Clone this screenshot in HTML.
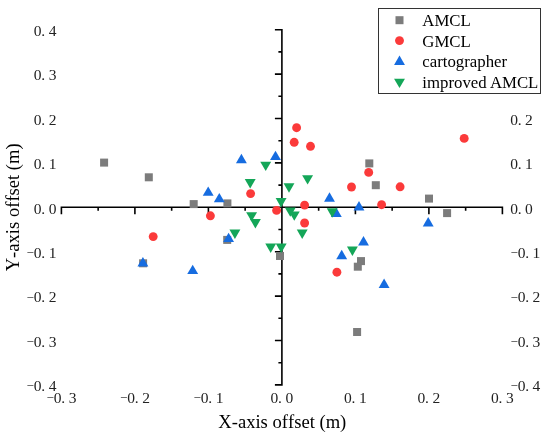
<!DOCTYPE html>
<html lang="en"><head><meta charset="utf-8"><title>Offset scatter</title>
<style>
html,body{margin:0;padding:0;background:#fff;}
body{width:550px;height:437px;overflow:hidden;}
svg{display:block;}
.tk{font-family:"Liberation Serif",serif;font-size:15.5px;fill:#222;text-anchor:middle;}
.mn{font-size:13px;}
.ti{font-family:"Liberation Serif",serif;font-size:18.6px;fill:#000;font-kerning:none;}
.lg{font-family:"Liberation Serif",serif;font-size:16.8px;fill:#000;}
</style></head><body>
<svg width="550" height="437" viewBox="0 0 550 437">
<rect width="550" height="437" fill="#fff"/>
<path d="M60.60 207.3H503.20M281.9 28.90V385.70M61.40 207.3v7M98.15 207.3v3.5M134.90 207.3v7M171.65 207.3v3.5M208.40 207.3v7M245.15 207.3v3.5M281.90 207.3v7M318.65 207.3v3.5M355.40 207.3v7M392.15 207.3v3.5M428.90 207.3v7M465.65 207.3v3.5M502.40 207.3v7M281.9 29.70h-7M281.9 51.90h-3.5M281.9 74.10h-7M281.9 96.30h-3.5M281.9 118.50h-7M281.9 140.70h-3.5M281.9 162.90h-7M281.9 185.10h-3.5M281.9 207.30h-7M281.9 229.50h-3.5M281.9 251.70h-7M281.9 273.90h-3.5M281.9 296.10h-7M281.9 318.30h-3.5M281.9 340.50h-7M281.9 362.70h-3.5M281.9 384.90h-7" stroke="#000" stroke-width="1.6" fill="none"/>
<g>
<rect x="100.10" y="158.60" width="8.0" height="8.0" fill="#7c7c7c"/>
<rect x="144.80" y="173.30" width="8.0" height="8.0" fill="#7c7c7c"/>
<rect x="189.70" y="200.10" width="8.0" height="8.0" fill="#7c7c7c"/>
<rect x="223.40" y="199.40" width="8.0" height="8.0" fill="#7c7c7c"/>
<rect x="223.20" y="235.90" width="8.0" height="8.0" fill="#7c7c7c"/>
<rect x="139.10" y="259.30" width="8.0" height="8.0" fill="#7c7c7c"/>
<rect x="276.00" y="252.00" width="8.0" height="8.0" fill="#7c7c7c"/>
<rect x="365.30" y="159.40" width="8.0" height="8.0" fill="#7c7c7c"/>
<rect x="371.80" y="181.20" width="8.0" height="8.0" fill="#7c7c7c"/>
<rect x="425.00" y="194.60" width="8.0" height="8.0" fill="#7c7c7c"/>
<rect x="443.10" y="209.10" width="8.0" height="8.0" fill="#7c7c7c"/>
<rect x="357.00" y="257.10" width="8.0" height="8.0" fill="#7c7c7c"/>
<rect x="353.80" y="262.70" width="8.0" height="8.0" fill="#7c7c7c"/>
<rect x="353.10" y="328.00" width="8.0" height="8.0" fill="#7c7c7c"/>
<circle cx="153.20" cy="236.60" r="4.45" fill="#fb3a3a"/>
<circle cx="210.40" cy="215.80" r="4.45" fill="#fb3a3a"/>
<circle cx="250.60" cy="193.60" r="4.45" fill="#fb3a3a"/>
<circle cx="276.60" cy="210.40" r="4.45" fill="#fb3a3a"/>
<circle cx="296.60" cy="127.70" r="4.45" fill="#fb3a3a"/>
<circle cx="294.20" cy="142.30" r="4.45" fill="#fb3a3a"/>
<circle cx="310.50" cy="146.30" r="4.45" fill="#fb3a3a"/>
<circle cx="304.60" cy="205.10" r="4.45" fill="#fb3a3a"/>
<circle cx="304.60" cy="223.00" r="4.45" fill="#fb3a3a"/>
<circle cx="351.50" cy="187.00" r="4.45" fill="#fb3a3a"/>
<circle cx="368.70" cy="172.40" r="4.45" fill="#fb3a3a"/>
<circle cx="381.60" cy="204.70" r="4.45" fill="#fb3a3a"/>
<circle cx="400.10" cy="186.80" r="4.45" fill="#fb3a3a"/>
<circle cx="464.20" cy="138.40" r="4.45" fill="#fb3a3a"/>
<circle cx="336.90" cy="272.20" r="4.45" fill="#fb3a3a"/>
<path d="M235.95 163.20L246.85 163.20L241.40 153.80Z" fill="#166ce0"/>
<path d="M270.05 160.10L280.95 160.10L275.50 150.70Z" fill="#166ce0"/>
<path d="M202.75 195.80L213.65 195.80L208.20 186.40Z" fill="#166ce0"/>
<path d="M213.85 202.30L224.75 202.30L219.30 192.90Z" fill="#166ce0"/>
<path d="M223.15 242.10L234.05 242.10L228.60 232.70Z" fill="#166ce0"/>
<path d="M137.45 266.40L148.35 266.40L142.90 257.00Z" fill="#166ce0"/>
<path d="M187.25 274.10L198.15 274.10L192.70 264.70Z" fill="#166ce0"/>
<path d="M324.05 201.70L334.95 201.70L329.50 192.30Z" fill="#166ce0"/>
<path d="M330.85 216.90L341.75 216.90L336.30 207.50Z" fill="#166ce0"/>
<path d="M353.55 210.40L364.45 210.40L359.00 201.00Z" fill="#166ce0"/>
<path d="M358.05 245.50L368.95 245.50L363.50 236.10Z" fill="#166ce0"/>
<path d="M336.25 259.20L347.15 259.20L341.70 249.80Z" fill="#166ce0"/>
<path d="M378.65 287.90L389.55 287.90L384.10 278.50Z" fill="#166ce0"/>
<path d="M422.75 226.50L433.65 226.50L428.20 217.10Z" fill="#166ce0"/>
<path d="M260.25 161.70L271.15 161.70L265.70 171.10Z" fill="#14a658"/>
<path d="M244.75 179.10L255.65 179.10L250.20 188.50Z" fill="#14a658"/>
<path d="M283.55 183.30L294.45 183.30L289.00 192.70Z" fill="#14a658"/>
<path d="M302.15 175.20L313.05 175.20L307.60 184.60Z" fill="#14a658"/>
<path d="M275.65 198.00L286.55 198.00L281.10 207.40Z" fill="#14a658"/>
<path d="M284.85 207.40L295.75 207.40L290.30 216.80Z" fill="#14a658"/>
<path d="M288.85 211.40L299.75 211.40L294.30 220.80Z" fill="#14a658"/>
<path d="M326.75 208.30L337.65 208.30L332.20 217.70Z" fill="#14a658"/>
<path d="M229.45 229.50L240.35 229.50L234.90 238.90Z" fill="#14a658"/>
<path d="M296.75 229.60L307.65 229.60L302.20 239.00Z" fill="#14a658"/>
<path d="M265.25 243.60L276.15 243.60L270.70 253.00Z" fill="#14a658"/>
<path d="M275.75 243.60L286.65 243.60L281.20 253.00Z" fill="#14a658"/>
<path d="M346.95 246.60L357.85 246.60L352.40 256.00Z" fill="#14a658"/>
<path d="M246.15 212.20L257.05 212.20L251.60 221.60Z" fill="#14a658"/>
<path d="M249.95 219.10L260.85 219.10L255.40 228.50Z" fill="#14a658"/>
</g>
<text class="tk" y="391.10"><tspan class="mn" x="30.25" dy="-0.7">−</tspan><tspan x="37.62 43.26 52.56" dy="0.7">0.4</tspan></text>
<text class="tk" y="391.10"><tspan class="mn" x="514.13" dy="-0.7">−</tspan><tspan x="521.50 527.14 536.45" dy="0.7">0.4</tspan></text>
<text class="tk" y="346.70"><tspan class="mn" x="30.25" dy="-0.7">−</tspan><tspan x="37.62 43.26 52.56" dy="0.7">0.3</tspan></text>
<text class="tk" y="346.70"><tspan class="mn" x="514.13" dy="-0.7">−</tspan><tspan x="521.50 527.14 536.45" dy="0.7">0.3</tspan></text>
<text class="tk" y="302.30"><tspan class="mn" x="30.25" dy="-0.7">−</tspan><tspan x="37.62 43.26 52.56" dy="0.7">0.2</tspan></text>
<text class="tk" y="302.30"><tspan class="mn" x="514.13" dy="-0.7">−</tspan><tspan x="521.50 527.14 536.45" dy="0.7">0.2</tspan></text>
<text class="tk" y="257.90"><tspan class="mn" x="30.25" dy="-0.7">−</tspan><tspan x="37.62 43.26 52.56" dy="0.7">0.1</tspan></text>
<text class="tk" y="257.90"><tspan class="mn" x="514.13" dy="-0.7">−</tspan><tspan x="521.50 527.14 536.45" dy="0.7">0.1</tspan></text>
<text class="tk" y="213.50"><tspan x="37.62 43.26 52.56">0.0</tspan></text>
<text class="tk" y="213.50"><tspan x="514.03 519.67 528.98">0.0</tspan></text>
<text class="tk" y="169.10"><tspan x="37.62 43.26 52.56">0.1</tspan></text>
<text class="tk" y="169.10"><tspan x="514.03 519.67 528.98">0.1</tspan></text>
<text class="tk" y="124.70"><tspan x="37.62 43.26 52.56">0.2</tspan></text>
<text class="tk" y="124.70"><tspan x="514.03 519.67 528.98">0.2</tspan></text>
<text class="tk" y="80.30"><tspan x="37.62 43.26 52.56">0.3</tspan></text>
<text class="tk" y="80.30"><tspan x="514.03 519.67 528.98">0.3</tspan></text>
<text class="tk" y="35.90"><tspan x="37.62 43.26 52.56">0.4</tspan></text>
<text class="tk" y="35.90"><tspan x="514.03 519.67 528.98">0.4</tspan></text>
<text class="tk" y="403.00"><tspan class="mn" x="50.29" dy="-0.7">−</tspan><tspan x="57.66 63.30 72.60" dy="0.7">0.3</tspan></text>
<text class="tk" y="403.00"><tspan class="mn" x="123.79" dy="-0.7">−</tspan><tspan x="131.16 136.80 146.10" dy="0.7">0.2</tspan></text>
<text class="tk" y="403.00"><tspan class="mn" x="197.29" dy="-0.7">−</tspan><tspan x="204.66 210.30 219.60" dy="0.7">0.1</tspan></text>
<text class="tk" y="403.00"><tspan x="274.43 280.06 289.37">0.0</tspan></text>
<text class="tk" y="403.00"><tspan x="347.93 353.56 362.87">0.1</tspan></text>
<text class="tk" y="403.00"><tspan x="421.43 427.06 436.37">0.2</tspan></text>
<text class="tk" y="403.00"><tspan x="494.93 500.56 509.87">0.3</tspan></text>
<text class="ti" x="282.3" y="428" text-anchor="middle">X-axis offset (m)</text>
<text class="ti" transform="translate(18.65 207.3) rotate(-90)" text-anchor="middle">Y-axis offset (m)</text>
<rect x="378.5" y="8.5" width="162" height="85" fill="#fff" stroke="#333" stroke-width="1"/>
<rect x="395.50" y="16.20" width="8.0" height="8.0" fill="#7c7c7c"/>
<circle cx="399.50" cy="40.60" r="4.45" fill="#fb3a3a"/>
<path d="M394.05 64.90L404.95 64.90L399.50 55.50Z" fill="#166ce0"/>
<path d="M394.05 78.70L404.95 78.70L399.50 88.10Z" fill="#14a658"/>
<text class="lg" x="422.3" y="26.3">AMCL</text>
<text class="lg" x="422.3" y="46.5">GMCL</text>
<text class="lg" x="422.3" y="66.7">cartographer</text>
<text class="lg" x="422.3" y="87.8">improved AMCL</text>
</svg></body></html>
